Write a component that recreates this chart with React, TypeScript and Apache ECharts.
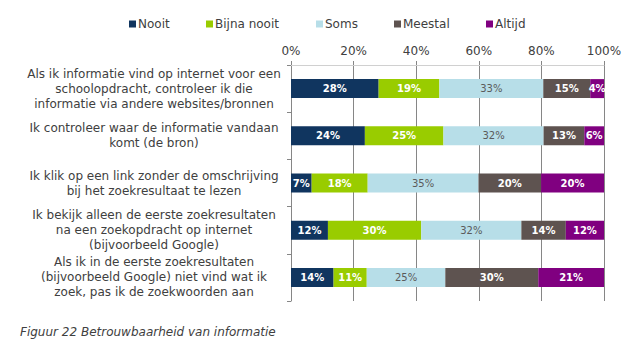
import React, { useEffect, useRef } from "react";
import * as echarts from "echarts";

const categories = [
  "Als ik informatie vind op internet voor een\nschoolopdracht, controleer ik die\ninformatie via andere websites/bronnen",
  "Ik controleer waar de informatie vandaan\nkomt (de bron)",
  "Ik klik op een link zonder de omschrijving\nbij het zoekresultaat te lezen",
  "Ik bekijk alleen de eerste zoekresultaten\nna een zoekopdracht op internet\n(bijvoorbeeld Google)",
  "Als ik in de eerste zoekresultaten\n(bijvoorbeeld Google) niet vind wat ik\nzoek, pas ik de zoekwoorden aan",
];

const seriesNames = ["Nooit", "Bijna nooit", "Soms", "Meestal", "Altijd"];

const nooit = [28.0, 23.6, 6.6, 11.8, 13.6];
const bijnaNooit = [19.4, 25.1, 17.9, 29.8, 10.6];
const soms = [33.2, 32.0, 35.4, 32.0, 25.1];
const meestal = [15.0, 13.0, 20.0, 14.2, 29.7];
const altijd = [4.4, 6.3, 20.1, 12.2, 21.0];

const xTicks = [0, 20, 40, 60, 80, 100];

const colors = ["#10355F", "#99CC00", "#B7DEE8", "#5E5350", "#800080"];
const labelColors = ["#FFFFFF", "#FFFFFF", "#5A5A5A", "#FFFFFF", "#FFFFFF"];
const labelWeights = ["bold", "bold", "normal", "bold", "bold"];
const legendLefts = [129, 206, 316, 394, 486];

const caption = "Figuur 22 Betrouwbaarheid van informatie";

export default function App() {
  const ref = useRef<HTMLDivElement>(null);
  useEffect(() => {
    if (!ref.current) return;
    const chart = echarts.init(ref.current, undefined, { renderer: "svg" });
    const values = [nooit, bijnaNooit, soms, meestal, altijd];
    const font = "DejaVu Sans";
    chart.setOption({
      animation: false,
      textStyle: { fontFamily: font },
      legend: seriesNames.map((n, i) => ({
        data: [n],
        left: legendLefts[i],
        top: 18,
        icon: "rect",
        itemWidth: 7,
        itemHeight: 7,
        padding: 0,
        textStyle: { fontSize: 12, color: "#404040", fontFamily: font, padding: [0, 0, 0, -3] },
      })),
      grid: { left: 291, right: 36, top: 65, bottom: 53 },
      xAxis: {
        type: "value",
        position: "top",
        min: xTicks[0],
        max: xTicks[xTicks.length - 1],
        interval: 20,
        axisLabel: { formatter: "{value}%", fontSize: 12, color: "#404040", margin: 8, fontFamily: font },
        axisLine: { show: true, lineStyle: { color: "#D0D0D0" } },
        axisTick: { show: true, length: 4, lineStyle: { color: "#868686" } },
        splitLine: { show: true, lineStyle: { color: "#868686", width: 1 } },
      },
      yAxis: {
        type: "category",
        inverse: true,
        data: categories,
        axisLine: { show: true, lineStyle: { color: "#868686" } },
        axisTick: { show: true, length: 4, lineStyle: { color: "#868686" } },
        axisLabel: {
          align: "center",
          margin: 137,
          fontSize: 12,
          lineHeight: 15,
          color: "#404040",
          fontFamily: font,
        },
      },
      series: seriesNames.map((n, i) => ({
        name: n,
        type: "bar",
        stack: "total",
        barWidth: 19,
        data: values[i],
        itemStyle: { color: colors[i] },
        label: {
          show: true,
          position: "inside",
          formatter: (p: any) => Math.round(p.value) + "%",
          fontSize: 10,
          fontWeight: labelWeights[i],
          color: labelColors[i],
          fontFamily: font,
        },
      })),
      graphic: [
        {
          type: "text",
          left: 20,
          top: 326,
          style: {
            text: caption,
            font: "italic 12px 'DejaVu Sans'",
            fill: "#404040",
          },
        },
      ],
    });
    return () => chart.dispose();
  }, []);
  return (
    <div
      ref={ref}
      style={{ position: "absolute", left: 0, top: 0, width: 640, height: 354, background: "#fff" }}
    />
  );
}
